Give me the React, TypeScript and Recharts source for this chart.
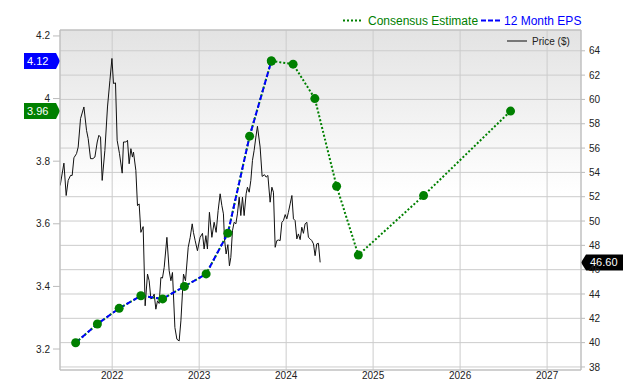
import {
  ComposedChart,
  Line,
  XAxis,
  YAxis,
  CartesianGrid,
  ReferenceLine,
} from 'recharts'

// quarterly reported EPS (x = fractional year)
const epsYears = [2021.58, 2021.83, 2022.08, 2022.33, 2022.58, 2022.83, 2023.08, 2023.33, 2023.58, 2023.83]
const epsValues = [3.22, 3.28, 3.33, 3.37, 3.36, 3.4, 3.44, 3.57, 3.88, 4.12]

// consensus estimates, starting from the last reported quarter
const consensusYears = [2023.83, 2024.08, 2024.33, 2024.58, 2024.83, 2025.58, 2026.58]
const consensusValues = [4.12, 4.11, 4.0, 3.72, 3.5, 3.69, 3.96]

const priceYears = [
  2021.402, 2021.445, 2021.471, 2021.494, 2021.521, 2021.54, 2021.56, 2021.59, 2021.609, 2021.636,
  2021.675, 2021.705, 2021.724, 2021.751, 2021.778, 2021.801, 2021.828, 2021.847, 2021.866, 2021.885,
  2021.916, 2021.946, 2021.974, 2021.997, 2022.015, 2022.038, 2022.057, 2022.084, 2022.115, 2022.13,
  2022.157, 2022.176, 2022.195, 2022.215, 2022.233, 2022.245, 2022.272, 2022.291, 2022.31, 2022.33,
  2022.356, 2022.379, 2022.406, 2022.425, 2022.445, 2022.463, 2022.483, 2022.502, 2022.521, 2022.54,
  2022.56, 2022.578, 2022.598, 2022.629, 2022.655, 2022.675, 2022.693, 2022.721, 2022.744, 2022.77,
  2022.79, 2022.82, 2022.843, 2022.874, 2022.897, 2022.92, 2022.934, 2022.954, 2022.98, 2023.011,
  2023.038, 2023.057, 2023.077, 2023.095, 2023.118, 2023.146, 2023.172, 2023.195, 2023.218, 2023.241,
  2023.261, 2023.279, 2023.291, 2023.31, 2023.33, 2023.348, 2023.364, 2023.383, 2023.402, 2023.422,
  2023.44, 2023.46, 2023.479, 2023.498, 2023.517, 2023.54, 2023.555, 2023.575, 2023.594, 2023.613,
  2023.632, 2023.652, 2023.67, 2023.701, 2023.724, 2023.751, 2023.77, 2023.79, 2023.816, 2023.836,
  2023.854, 2023.874, 2023.893, 2023.911, 2023.931, 2023.951, 2023.969, 2023.989, 2024.008, 2024.026,
  2024.046, 2024.066, 2024.084, 2024.103, 2024.123, 2024.141, 2024.161, 2024.18, 2024.199, 2024.218,
  2024.238, 2024.256, 2024.276, 2024.295, 2024.314, 2024.333, 2024.352, 2024.371, 2024.391,
]
const priceValues = [
  52.92, 54.76, 52.1, 53.34, 53.75, 53.75, 55.2, 55.54, 56.08, 58.42,
  59.38, 57.46, 56.78, 55.13, 55.13, 55.26, 56.5, 57.05, 56.9, 53.34,
  55.81, 59.38, 61.58, 63.37, 61.31, 61.36, 56.64, 55.54, 53.94, 56.5,
  56.5, 56.64, 54.71, 55.95, 55.26, 55.67, 54.16, 51.27, 51.41, 49.07,
  49.54, 43.03, 45.64, 45.09, 43.58, 43.71, 43.99, 42.75, 43.44, 43.22,
  45.36, 45.31, 46.19, 48.66, 45.91, 45.09, 45.77, 41.24, 40.28, 40.14,
  41.79, 45.64, 45.09, 47.84, 48.66, 49.77, 49.07, 48.39, 47.56, 48.66,
  48.99, 47.7, 48.8, 47.7, 50.72, 48.66, 49.9, 49.07, 50.86, 52.24,
  51.27, 50.59, 48.53, 47.29, 48.06, 46.32, 47.01, 49.21, 49.9, 49.77,
  50.59, 51.96, 50.45, 51.96, 50.45, 52.24, 52.78, 52.37, 53.34, 54.99,
  55.81, 56.91, 57.79, 56.08, 53.67, 53.81, 53.61, 53.75, 51.55, 52.78,
  52.37, 47.84, 48.39, 48.44, 48.39, 49.9, 50.04, 50.53, 50.18, 50.72,
  51.41, 52.1, 50.18, 50.04, 48.53, 48.94, 48.47, 49.49, 48.99, 49.77,
  49.9, 48.66, 48.53, 48.39, 48.12, 47.15, 48.12, 48.17, 46.6,
]

const yearTicks = [2022, 2023, 2024, 2025, 2026, 2027]
const epsTicks = [3.2, 3.4, 3.6, 3.8, 4, 4.2]
const priceTicks = [38, 40, 42, 44, 46, 48, 50, 52, 54, 56, 58, 60, 62, 64]

const epsData = epsYears.map((x, i) => ({ x, eps: epsValues[i] }))
const consensusData = consensusYears.map((x, i) => ({ x, est: consensusValues[i] }))
const priceData = priceYears.map((x, i) => ({ x, price: priceValues[i] }))

const GREEN = '#008000'
const BLUE = '#0000ff'
const FONT = '"Liberation Sans", Arial, sans-serif'

const lastEps = epsValues[epsValues.length - 1]
const lastEst = consensusValues[consensusValues.length - 1]
const lastPrice = priceValues[priceValues.length - 1]

function Tag({ viewBox, text, color, side }: any) {
  const vb = viewBox || {}
  const y = vb.y
  if (side === 'left') {
    const tip = vb.x
    const pts = `${tip - 36},${y - 8} ${tip - 4},${y - 8} ${tip},${y} ${tip - 4},${y + 8} ${tip - 36},${y + 8}`
    return (
      <g>
        <polygon points={pts} fill={color} />
        <text x={tip - 33} y={y + 4} fill="#fff" fontSize={11} fontFamily={FONT}>
          {text}
        </text>
      </g>
    )
  }
  const tip = vb.x + vb.width
  const pts = `${tip},${y} ${tip + 5},${y - 8} ${tip + 42},${y - 8} ${tip + 42},${y + 8} ${tip + 5},${y + 8}`
  return (
    <g>
      <polygon points={pts} fill={color} />
      <text x={tip + 9} y={y + 4} fill="#fff" fontSize={11} fontFamily={FONT}>
        {text}
      </text>
    </g>
  )
}

export default function App() {
  return (
    <div style={{ position: 'absolute', left: 0, top: 0, width: 640, height: 380, background: '#fff', fontFamily: FONT }}>
      <ComposedChart
        width={640}
        height={380}
        margin={{ top: 30, right: 19, bottom: 0, left: 0 }}
        style={{ fontFamily: FONT }}
      >
        <defs>
          <linearGradient id="plotBg" x1="0" y1="0" x2="0" y2="1">
            <stop offset="0%" stopColor="#e3e3e3" />
            <stop offset="48%" stopColor="#ffffff" />
            <stop offset="100%" stopColor="#ffffff" />
          </linearGradient>
        </defs>
        <CartesianGrid
          yAxisId="price"
          stroke="#cccccc"
          fill="url(#plotBg)"
          fillOpacity={1}
        />
        <XAxis
          dataKey="x"
          type="number"
          domain={[2021.4, 2027.39]}
          ticks={yearTicks}
          allowDataOverflow
          tickLine={false}
          tickSize={0}
          tickMargin={2}
          height={10}
          axisLine={{ stroke: '#bbbbbb' }}
          tick={{ fill: '#222', fontSize: 10 }}
        />
        <YAxis
          yAxisId="eps"
          orientation="left"
          type="number"
          domain={[3.133, 4.219]}
          ticks={epsTicks}
          width={60}
          tickSize={7}
          tickMargin={3}
          tickLine={{ stroke: '#bbbbbb' }}
          axisLine={{ stroke: '#bbbbbb' }}
          tick={{ fill: '#222', fontSize: 10 }}
          tickFormatter={(v: number) => String(v)}
        />
        <YAxis
          yAxisId="price"
          orientation="right"
          type="number"
          domain={[37.75, 65.71]}
          ticks={priceTicks}
          width={40}
          tickSize={4}
          tickMargin={4}
          tickLine={{ stroke: '#bbbbbb' }}
          axisLine={{ stroke: '#bbbbbb' }}
          tick={{ fill: '#222', fontSize: 10, textAnchor: 'start' }}
        />
        {/* top border of the plot */}
        <ReferenceLine yAxisId="price" y={65.71} stroke="#bbbbbb" />

        <Line
          data={priceData}
          yAxisId="price"
          dataKey="price"
          stroke="#111"
          strokeWidth={1}
          dot={false}
          isAnimationActive={false}
        />
        {/* green dotted underlay along the reported part */}
        <Line
          data={epsData}
          yAxisId="eps"
          dataKey="eps"
          stroke={GREEN}
          strokeWidth={2}
          strokeDasharray="2 2"
          dot={false}
          isAnimationActive={false}
        />
        <Line
          data={consensusData}
          yAxisId="eps"
          dataKey="est"
          stroke={GREEN}
          strokeWidth={2}
          strokeDasharray="2 2"
          dot={{ r: 4.5, fill: GREEN, stroke: GREEN, strokeWidth: 0 }}
          isAnimationActive={false}
        />
        <Line
          data={epsData}
          yAxisId="eps"
          dataKey="eps"
          stroke={BLUE}
          strokeWidth={2}
          strokeDasharray="5 3"
          dot={{ r: 4.5, fill: GREEN, stroke: GREEN, strokeWidth: 0, strokeDasharray: '' }}
          isAnimationActive={false}
        />

        <ReferenceLine
          yAxisId="eps"
          y={lastEps}
          strokeOpacity={0}
          label={(p: any) => <Tag viewBox={p.viewBox} text={lastEps.toFixed(2)} color={BLUE} side="left" />}
        />
        <ReferenceLine
          yAxisId="eps"
          y={lastEst}
          strokeOpacity={0}
          label={(p: any) => <Tag viewBox={p.viewBox} text={lastEst.toFixed(2)} color={GREEN} side="left" />}
        />
        <ReferenceLine
          yAxisId="price"
          y={lastPrice}
          strokeOpacity={0}
          label={(p: any) => <Tag viewBox={p.viewBox} text={lastPrice.toFixed(2)} color="#000" side="right" />}
        />
      </ComposedChart>

      {/* legend */}
      <svg style={{ position: 'absolute', left: 0, top: 0 }} width={640} height={50}>
        <line x1={343} y1={20.5} x2={362} y2={20.5} stroke={GREEN} strokeWidth={2} strokeDasharray="2 2" />
        <text x={368} y={24.5} fill={GREEN} fontSize={12} fontFamily={FONT}>Consensus Estimate</text>
        <line x1={481} y1={20.5} x2={500} y2={20.5} stroke={BLUE} strokeWidth={2} strokeDasharray="5 2" />
        <text x={504} y={24.5} fill={BLUE} fontSize={12} fontFamily={FONT}>12 Month EPS</text>
        <line x1={507} y1={41} x2={527} y2={41} stroke="#777" strokeWidth={2} />
        <text x={532} y={44.5} fill="#222" fontSize={10} fontFamily={FONT}>Price ($)</text>
      </svg>
    </div>
  )
}
